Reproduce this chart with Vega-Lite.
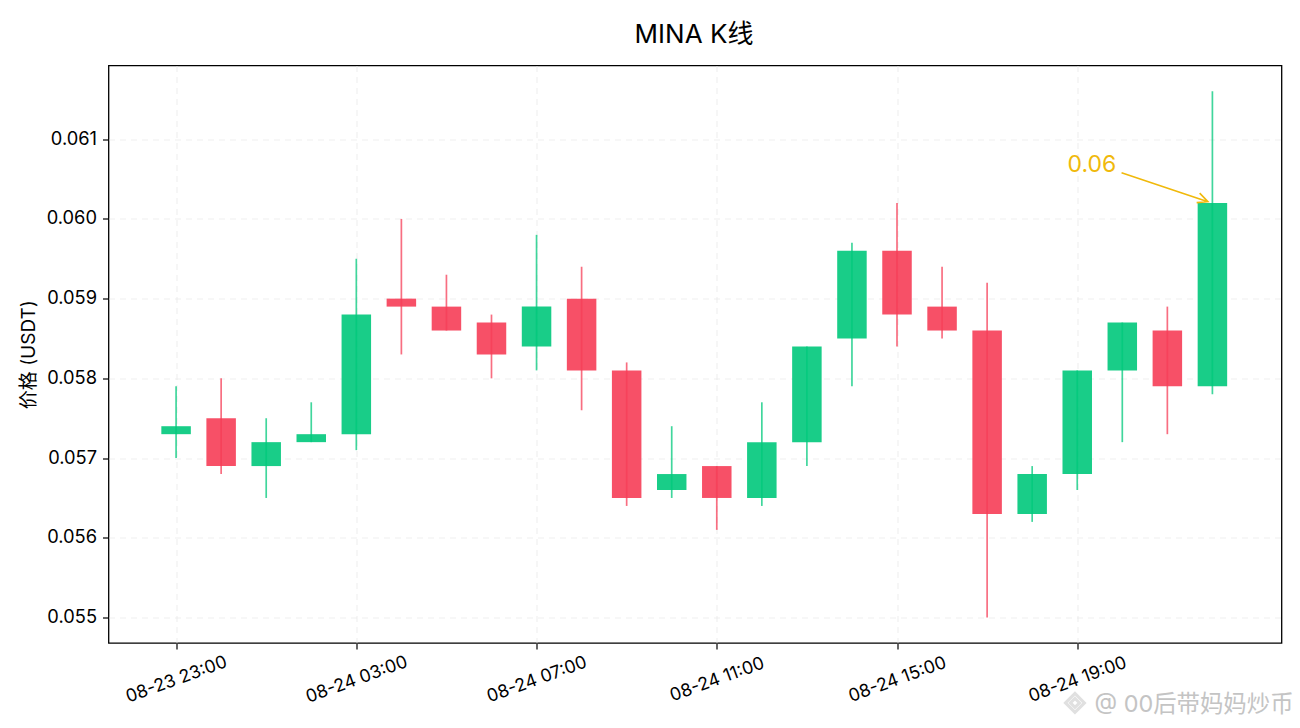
{
  "$schema": "https://vega.github.io/schema/vega-lite/v6.json",
  "width": 1173,
  "height": 577.5,
  "autosize": "none",
  "padding": {"left": 108.5, "top": 65.5, "right": 18.5, "bottom": 85},
  "background": "#ffffff",
  "title": {
    "text": "MINA K线",
    "font": "Inter, Noto Sans CJK SC",
    "fontSize": 26,
    "fontWeight": "normal",
    "color": "#000000",
    "anchor": "middle",
    "offset": 18,
    "dx": -1
  },
  "config": {
    "view": {"stroke": "#000000", "strokeWidth": 1.3},
    "font": "Inter"
  },
  "datasets": {
    "candles": [
      {"time": "2025-08-23T23:00:00", "open": 0.0573, "close": 0.0574, "high": 0.0579, "low": 0.057, "dir": "up"},
      {"time": "2025-08-24T00:00:00", "open": 0.0575, "close": 0.0569, "high": 0.058, "low": 0.0568, "dir": "down"},
      {"time": "2025-08-24T01:00:00", "open": 0.0569, "close": 0.0572, "high": 0.0575, "low": 0.0565, "dir": "up"},
      {"time": "2025-08-24T02:00:00", "open": 0.0572, "close": 0.0573, "high": 0.0577, "low": 0.0572, "dir": "up"},
      {"time": "2025-08-24T03:00:00", "open": 0.0573, "close": 0.0588, "high": 0.0595, "low": 0.0571, "dir": "up"},
      {"time": "2025-08-24T04:00:00", "open": 0.059, "close": 0.0589, "high": 0.06, "low": 0.0583, "dir": "down"},
      {"time": "2025-08-24T05:00:00", "open": 0.0589, "close": 0.0586, "high": 0.0593, "low": 0.0586, "dir": "down"},
      {"time": "2025-08-24T06:00:00", "open": 0.0587, "close": 0.0583, "high": 0.0588, "low": 0.058, "dir": "down"},
      {"time": "2025-08-24T07:00:00", "open": 0.0584, "close": 0.0589, "high": 0.0598, "low": 0.0581, "dir": "up"},
      {"time": "2025-08-24T08:00:00", "open": 0.059, "close": 0.0581, "high": 0.0594, "low": 0.0576, "dir": "down"},
      {"time": "2025-08-24T09:00:00", "open": 0.0581, "close": 0.0565, "high": 0.0582, "low": 0.0564, "dir": "down"},
      {"time": "2025-08-24T10:00:00", "open": 0.0566, "close": 0.0568, "high": 0.0574, "low": 0.0565, "dir": "up"},
      {"time": "2025-08-24T11:00:00", "open": 0.0569, "close": 0.0565, "high": 0.0569, "low": 0.0561, "dir": "down"},
      {"time": "2025-08-24T12:00:00", "open": 0.0565, "close": 0.0572, "high": 0.0577, "low": 0.0564, "dir": "up"},
      {"time": "2025-08-24T13:00:00", "open": 0.0572, "close": 0.0584, "high": 0.0584, "low": 0.0569, "dir": "up"},
      {"time": "2025-08-24T14:00:00", "open": 0.0585, "close": 0.0596, "high": 0.0597, "low": 0.0579, "dir": "up"},
      {"time": "2025-08-24T15:00:00", "open": 0.0596, "close": 0.0588, "high": 0.0602, "low": 0.0584, "dir": "down"},
      {"time": "2025-08-24T16:00:00", "open": 0.0589, "close": 0.0586, "high": 0.0594, "low": 0.0585, "dir": "down"},
      {"time": "2025-08-24T17:00:00", "open": 0.0586, "close": 0.0563, "high": 0.0592, "low": 0.055, "dir": "down"},
      {"time": "2025-08-24T18:00:00", "open": 0.0563, "close": 0.0568, "high": 0.0569, "low": 0.0562, "dir": "up"},
      {"time": "2025-08-24T19:00:00", "open": 0.0568, "close": 0.0581, "high": 0.0581, "low": 0.0566, "dir": "up"},
      {"time": "2025-08-24T20:00:00", "open": 0.0581, "close": 0.0587, "high": 0.0587, "low": 0.0572, "dir": "up"},
      {"time": "2025-08-24T21:00:00", "open": 0.0586, "close": 0.0579, "high": 0.0589, "low": 0.0573, "dir": "down"},
      {"time": "2025-08-24T22:00:00", "open": 0.0579, "close": 0.0602, "high": 0.0616, "low": 0.0578, "dir": "up"}
    ],
    "arrow": [
      {"step": 1, "time": "2025-08-24T19:59:00", "price": 0.06058},
      {"step": 2, "time": "2025-08-24T21:54:00", "price": 0.060216},
      {"step": 3, "time": "2025-08-24T21:43:00", "price": 0.060323},
      {"step": 4, "time": "2025-08-24T21:54:00", "price": 0.060216},
      {"step": 5, "time": "2025-08-24T21:39:00", "price": 0.060204}
    ],
    "note": [
      {"time": "2025-08-24T18:47:00", "price": 0.06059, "label": "0.06"}
    ],
    "watermark": [
      {"time": "2025-08-24T19:23:00", "price": 0.05381, "label": "@ 00后带妈妈炒币"}
    ],
    "logo": [
      {"time": "2025-08-24T18:57:00", "price": 0.05393, "size": 500},
      {"time": "2025-08-24T18:57:00", "price": 0.05393, "size": 110}
    ]
  },
  "encoding": {
    "x": {
      "field": "time",
      "type": "temporal",
      "scale": {"domain": ["2025-08-23T21:30:00", "2025-08-24T23:32:00"], "nice": false, "padding": 0},
      "axis": {
        "title": null,
        "values": [
          "2025-08-23T23:00:00",
          "2025-08-24T03:00:00",
          "2025-08-24T07:00:00",
          "2025-08-24T11:00:00",
          "2025-08-24T15:00:00",
          "2025-08-24T19:00:00"
        ],
        "format": "%m-%d %H:%M",
        "labelAngle": -20,
        "labelAlign": "center",
        "labelBaseline": "top",
        "labelFont": "Inter",
        "labelFontSize": 17.8,
        "labelColor": "#000000",
        "labelPadding": 22,
        "labelOverlap": false,
        "labelOffset": -3,
        "tickColor": "#000000",
        "tickSize": 6,
        "tickWidth": 1.2,
        "domain": false,
        "grid": true,
        "gridColor": "#e6e6e6",
        "gridOpacity": 0.6,
        "gridDash": [6, 5],
        "gridWidth": 1.2
      }
    }
  },
  "layer": [
    {
      "data": {"name": "candles"},
      "mark": {"type": "bar", "size": 29.5, "opacity": 0.9},
      "encoding": {
        "y": {
          "field": "open",
          "type": "quantitative",
          "scale": {"domain": [0.054681, 0.061924], "nice": false, "zero": false},
          "axis": {
            "title": "价格 (USDT)",
            "titleFont": "Inter, Noto Sans CJK SC",
            "titleFontSize": 19,
            "titleFontWeight": "normal",
            "titleColor": "#000000",
            "titlePadding": 8,
            "values": [0.055, 0.056, 0.057, 0.058, 0.059, 0.06, 0.061],
            "format": ".3f",
            "labelFont": "Inter",
            "labelFontSize": 18.3,
            "labelColor": "#000000",
            "labelPadding": 6,
            "tickColor": "#000000",
            "tickSize": 6,
            "tickWidth": 1.2,
            "domain": false,
            "grid": true,
            "gridColor": "#e6e6e6",
            "gridOpacity": 0.6,
            "gridDash": [6, 5],
            "gridWidth": 1.2
          }
        },
        "y2": {"field": "close"},
        "color": {
          "field": "dir",
          "type": "nominal",
          "legend": null,
          "scale": {"domain": ["up", "down"], "range": ["#00c87b", "#f63d57"]}
        }
      }
    },
    {
      "data": {"name": "candles"},
      "mark": {"type": "rule", "strokeWidth": 1.7, "opacity": 0.75},
      "encoding": {
        "y": {"field": "low", "type": "quantitative"},
        "y2": {"field": "high"},
        "color": {"field": "dir", "type": "nominal", "legend": null}
      }
    },
    {
      "data": {"name": "arrow"},
      "mark": {"type": "line", "color": "#f0b90b", "strokeWidth": 1.6},
      "encoding": {
        "y": {"field": "price", "type": "quantitative"},
        "order": {"field": "step", "type": "ordinal"}
      }
    },
    {
      "data": {"name": "note"},
      "mark": {"type": "text", "align": "left", "baseline": "alphabetic", "font": "Inter", "fontSize": 23, "color": "#f0b90b"},
      "encoding": {
        "y": {"field": "price", "type": "quantitative"},
        "text": {"field": "label", "type": "nominal"}
      }
    },
    {
      "data": {"name": "watermark"},
      "mark": {"type": "text", "align": "left", "baseline": "alphabetic", "font": "Inter, Noto Sans CJK SC", "fontSize": 23.4, "color": "#c4c4c4", "clip": false},
      "encoding": {
        "y": {"field": "price", "type": "quantitative"},
        "text": {"field": "label", "type": "nominal"}
      }
    },
    {
      "data": {"name": "logo"},
      "mark": {"type": "point", "shape": "diamond", "filled": false, "color": "#d4d4d4", "strokeWidth": 3, "clip": false},
      "encoding": {
        "y": {"field": "price", "type": "quantitative"},
        "size": {"field": "size", "type": "quantitative", "legend": null, "scale": {"type": "identity"}}
      }
    }
  ]
}
